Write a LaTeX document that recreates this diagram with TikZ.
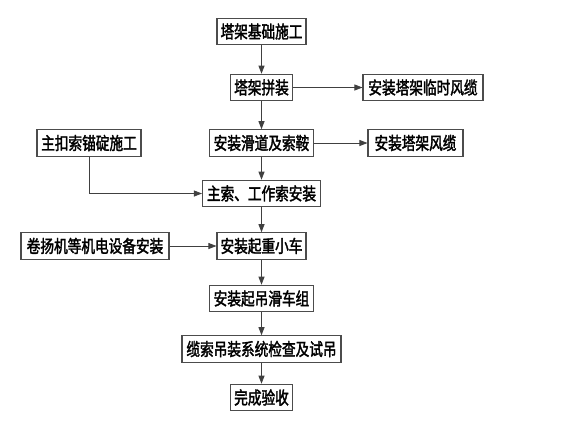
\documentclass[tikz,border=0pt]{standalone}
\usepackage{fontspec}
\newfontfamily\cjk[FakeStretch=0.78,FakeBold=2]{Noto Sans CJK SC}
\usetikzlibrary{arrows.meta}
\begin{document}
\begin{tikzpicture}[x=1pt,y=-1pt,
  box/.style={draw=black!70,line width=1.1pt,fill=white,inner sep=0pt,
    minimum height=26.5pt,font=\cjk\fontsize{17.5}{19}\selectfont},
  arr/.style={draw=black!75,line width=0.8pt,-{Triangle[length=8pt,width=6pt]}}]
\useasboundingbox (0,0) rectangle (575,432);
\node[box,minimum width=89pt]  (n1)  at (261.5,31.5)  {塔架基础施工};
\node[box,minimum width=62pt]  (n2)  at (261.5,87.5)  {塔架拼装};
\node[box,minimum width=120pt] (n3)  at (423,87.5)    {安装塔架临时风缆};
\node[box,minimum width=104pt] (n4)  at (261.5,143)   {安装滑道及索鞍};
\node[box,minimum width=95pt]  (n5)  at (415.5,143)   {安装塔架风缆};
\node[box,minimum width=104pt] (n6)  at (89,143)      {主扣索锚碇施工};
\node[box,minimum width=118pt] (n7)  at (261.5,193.5) {主索、工作索安装};
\node[box,minimum width=148pt] (n8)  at (95,246)      {卷扬机等机电设备安装};
\node[box,minimum width=89pt]  (n9)  at (261.5,246)   {安装起重小车};
\node[box,minimum width=104pt] (n10) at (261.5,298.5) {安装起吊滑车组};
\node[box,minimum width=159pt] (n11) at (261.5,349)   {缆索吊装系统检查及试吊};
\node[box,minimum width=62pt]  (n12) at (261.5,397.5) {完成验收};
\draw[arr] (n1) -- (n2);
\draw[arr] (n2) -- (n3);
\draw[arr] (n2) -- (n4);
\draw[arr] (n4) -- (n5);
\draw[arr] (n4) -- (n7);
\draw[arr] (n6.south) |- (n7.west);
\draw[arr] (n7) -- (n9);
\draw[arr] (n8) -- (n9);
\draw[arr] (n9) -- (n10);
\draw[arr] (n10) -- (n11);
\draw[arr] (n11) -- (n12);
\end{tikzpicture}
\end{document}
